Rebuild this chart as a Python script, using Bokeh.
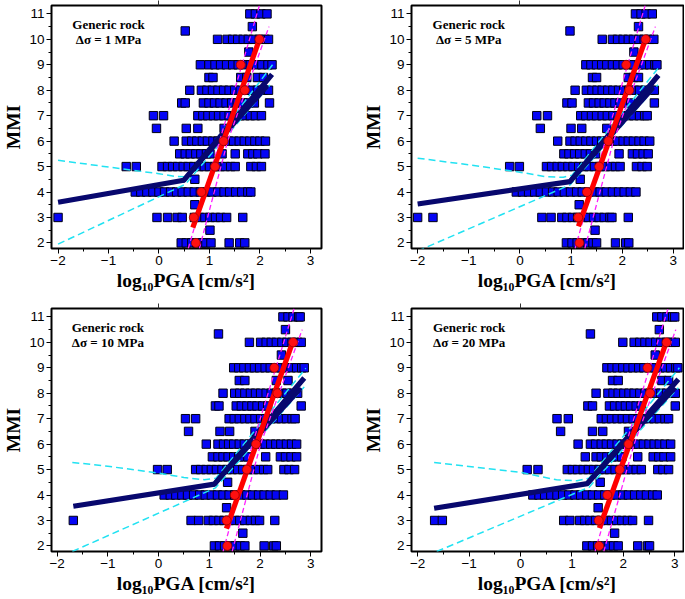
from bokeh.plotting import figure
from bokeh.models import LinearAxis, FixedTicker, Range1d
from bokeh.layouts import column, row
from bokeh.embed import file_html
from bokeh.resources import INLINE
from bokeh.core.properties import value

# ---------------- data ----------------
MMI_ROWS = [11, 10.5, 10.33, 10, 9.5, 9, 8.5, 8, 7.5, 7, 6.5, 6, 5.5, 5, 4.5, 4, 3.5, 3, 2.5, 2]

P1_PGA = [
    [1.80, 1.91, 2.02, 2.14],
    [1.85],
    [0.52],
    [1.16, 1.35, 1.46, 1.56, 1.67, 1.77, 1.87, 1.99, 2.10, 2.17],
    [1.78],
    [0.82, 0.99, 1.11, 1.22, 1.34, 1.46, 1.57, 1.69, 1.81, 1.93, 2.04, 2.16, 2.24],
    [0.99, 1.07, 1.62, 1.74, 1.95, 2.07],
    [0.61, 0.84, 0.95, 1.06, 1.17, 1.28, 1.39, 1.50, 1.61, 1.72, 1.83, 1.95, 2.06, 2.17],
    [0.45, 0.52, 0.88, 0.99, 1.10, 1.21, 1.33, 1.44, 1.55, 1.66, 1.77, 1.89, 2.19],
    [-0.11, 0.09, 0.77, 0.87, 0.97, 1.08, 1.18, 1.29, 1.39, 1.50, 1.60, 1.70, 1.81, 1.91, 2.03],
    [-0.05, 0.54, 0.77, 1.29],
    [0.30, 0.54, 0.65, 0.75, 0.86, 0.96, 1.07, 1.17, 1.27, 1.38, 1.48, 1.59, 1.69, 1.80, 1.90, 2.00, 2.11],
    [0.41, 0.52, 0.62, 0.73, 0.83, 0.94, 1.01, 1.25, 1.51, 1.76, 1.86, 1.96, 2.10],
    [-0.65, -0.45, 0.06, 0.17, 0.27, 0.37, 0.48, 0.58, 0.69, 0.79, 0.90, 1.00, 1.10, 1.21, 1.31, 1.42, 1.51, 1.82, 1.93, 2.03],
    [0.71],
    [-0.47, -0.36, -0.24, -0.12, 0.00, 0.11, 0.23, 0.35, 0.46, 0.58, 0.70, 0.82, 0.93, 1.05, 1.17, 1.29, 1.40, 1.52, 1.64, 1.76, 1.82],
    [0.71],
    [-2.0, -0.04, 0.17, 0.36, 0.46, 0.70, 0.80, 0.91, 1.01, 1.12, 1.22, 1.34, 1.66],
    [1.01],
    [0.44, 0.54, 0.65, 0.75, 0.86, 0.93, 1.03, 1.39, 1.60, 1.70],
]

P2_PGA = [
    [2.26, 2.37, 2.47, 2.59],
    [2.32],
    [0.98],
    [1.61, 1.81, 1.91, 2.02, 2.12, 2.22, 2.33, 2.43, 2.54, 2.62],
    [2.23],
    [1.29, 1.39, 1.50, 1.60, 1.70, 1.81, 1.91, 2.02, 2.12, 2.22, 2.33, 2.43, 2.54, 2.64, 2.68],
    [1.42, 1.50, 2.12, 2.22, 2.32],
    [1.08, 1.30, 1.41, 1.51, 1.61, 1.72, 1.82, 1.93, 2.03, 2.13, 2.24, 2.34, 2.45, 2.55, 2.63],
    [0.92, 1.02, 1.34, 1.44, 1.55, 1.65, 1.76, 1.86, 1.96, 2.07, 2.17, 2.63],
    [0.33, 0.54, 1.19, 1.29, 1.40, 1.50, 1.61, 1.71, 1.82, 1.92, 2.02, 2.13, 2.23, 2.34, 2.44, 2.49],
    [0.40, 1.00, 1.21, 1.70],
    [0.74, 0.98, 1.08, 1.18, 1.29, 1.39, 1.50, 1.60, 1.70, 1.81, 1.91, 2.02, 2.12, 2.22, 2.33, 2.43, 2.54],
    [0.86, 0.96, 1.07, 1.17, 1.28, 1.38, 1.48, 1.94, 2.20, 2.30, 2.41, 2.51],
    [-0.20, -0.01, 0.52, 0.62, 0.73, 0.83, 0.94, 1.04, 1.15, 1.25, 1.35, 1.46, 1.56, 1.67, 1.77, 1.87, 1.96, 2.28, 2.39, 2.49],
    [1.18],
    [-0.07, 0.05, 0.17, 0.29, 0.40, 0.52, 0.64, 0.75, 0.87, 0.99, 1.11, 1.22, 1.34, 1.46, 1.57, 1.69, 1.81, 1.93, 2.04, 2.16, 2.27],
    [1.16],
    [-2.0, -1.70, 0.43, 0.61, 0.82, 0.92, 1.03, 1.13, 1.24, 1.34, 1.44, 1.55, 1.65, 1.76, 1.80, 2.12],
    [1.47],
    [0.91, 1.02, 1.12, 1.22, 1.33, 1.43, 1.50, 1.87, 2.07, 2.13],
]

P3_PGA = [
    [2.45, 2.55, 2.65, 2.76, 2.79],
    [2.50],
    [1.18],
    [1.79, 2.01, 2.12, 2.22, 2.32, 2.43, 2.53, 2.63, 2.74, 2.81],
    [2.42],
    [1.48, 1.58, 1.68, 1.79, 1.89, 1.99, 2.10, 2.20, 2.30, 2.41, 2.51, 2.61, 2.72, 2.82, 2.87],
    [1.59, 1.70, 2.32, 2.55],
    [1.27, 1.50, 1.60, 1.70, 1.81, 1.91, 2.01, 2.12, 2.22, 2.32, 2.43, 2.53, 2.63, 2.74],
    [1.12, 1.19, 1.53, 1.63, 1.74, 1.84, 1.94, 2.05, 2.15, 2.81],
    [0.53, 0.73, 1.39, 1.49, 1.59, 1.70, 1.80, 1.90, 2.01, 2.11, 2.21, 2.32, 2.42, 2.52, 2.63, 2.69],
    [0.59, 1.21, 1.40, 1.90],
    [0.94, 1.17, 1.28, 1.38, 1.48, 1.59, 1.69, 1.79, 1.90, 2.00, 2.10, 2.21, 2.31, 2.41, 2.52, 2.62, 2.72],
    [1.06, 1.17, 1.27, 1.37, 1.48, 1.58, 1.68, 1.76, 2.11, 2.40, 2.50, 2.61, 2.72],
    [-0.02, 0.17, 0.73, 0.83, 0.94, 1.04, 1.14, 1.25, 1.35, 1.45, 1.56, 1.66, 1.76, 1.87, 1.97, 2.07, 2.15, 2.47, 2.57, 2.68],
    [1.36],
    [0.11, 0.23, 0.34, 0.46, 0.57, 0.69, 0.81, 0.92, 1.04, 1.16, 1.27, 1.39, 1.50, 1.62, 1.74, 1.85, 1.97, 2.08, 2.20, 2.32, 2.46],
    [1.34],
    [-1.68, 0.64, 0.79, 0.98, 1.08, 1.19, 1.29, 1.39, 1.50, 1.60, 1.70, 1.81, 1.91, 1.99, 2.29],
    [1.66],
    [1.10, 1.20, 1.30, 1.41, 1.51, 1.61, 1.70, 2.08, 2.27, 2.32],
]

P4_PGA = [
    [2.65, 2.75, 2.85, 2.96, 3.00],
    [2.70],
    [1.36],
    [1.99, 2.21, 2.32, 2.42, 2.52, 2.63, 2.73, 2.84, 2.94, 3.01],
    [2.62],
    [1.68, 1.78, 1.88, 1.99, 2.09, 2.19, 2.30, 2.40, 2.51, 2.61, 2.71, 2.82, 2.92, 3.02, 3.06],
    [1.79, 1.90, 2.75, 2.88],
    [1.47, 1.70, 1.80, 1.90, 2.01, 2.11, 2.21, 2.32, 2.42, 2.52, 2.63, 2.73, 2.84, 2.94, 3.01],
    [1.31, 1.40, 1.73, 1.83, 1.94, 2.04, 2.14, 2.25, 2.35, 3.01],
    [0.71, 0.93, 1.57, 1.67, 1.77, 1.88, 1.98, 2.08, 2.19, 2.29, 2.39, 2.50, 2.60, 2.70, 2.81, 2.88],
    [0.78, 1.40, 1.60, 2.10],
    [1.12, 1.36, 1.46, 1.57, 1.67, 1.77, 1.88, 1.98, 2.08, 2.19, 2.29, 2.39, 2.50, 2.60, 2.70, 2.81, 2.92],
    [1.26, 1.47, 1.57, 1.68, 1.78, 1.88, 1.97, 2.28, 2.58, 2.69, 2.79, 2.92],
    [0.13, 0.34, 0.91, 1.01, 1.11, 1.22, 1.32, 1.42, 1.53, 1.63, 1.73, 1.84, 1.94, 2.05, 2.15, 2.25, 2.35, 2.67, 2.77, 2.88],
    [1.55],
    [0.24, 0.36, 0.47, 0.59, 0.71, 0.82, 0.94, 1.06, 1.17, 1.29, 1.40, 1.52, 1.64, 1.75, 1.87, 1.99, 2.10, 2.22, 2.34, 2.45, 2.57, 2.66],
    [1.51],
    [-1.67, -1.52, 0.84, 0.96, 1.15, 1.25, 1.35, 1.46, 1.56, 1.66, 1.77, 1.87, 1.97, 2.08, 2.18, 2.49],
    [1.83],
    [1.29, 1.40, 1.50, 1.61, 1.71, 1.81, 1.90, 2.28, 2.47, 2.51],
]

# binned means (red circles)
RED_MMI = [2, 3, 4, 5, 6, 8, 9, 10]
P1_RED = [0.73, 0.69, 0.84, 1.11, 1.28, 1.70, 1.62, 1.99]
P2_RED = [1.165, 1.14, 1.31, 1.55, 1.73, 2.14, 2.08, 2.46]
P3_RED = [1.355, 1.34, 1.50, 1.74, 1.92, 2.34, 2.28, 2.65]
P4_RED = [1.53, 1.52, 1.69, 1.93, 2.10, 2.52, 2.47, 2.84]

# red fit line (x, y)
P1_FIT_X, P1_FIT_Y = [0.67, 1.99], [2.60, 10.0]
P2_FIT_X, P2_FIT_Y = [1.145, 2.46], [2.65, 10.02]
P3_FIT_X, P3_FIT_Y = [1.336, 2.645], [2.68, 10.03]
P4_FIT_X, P4_FIT_Y = [1.534, 2.84], [2.70, 10.03]

# magenta dashed bounds
MAG_L_Y = [1.78, 6.0, 11.33]
MAG_R_Y = [1.78, 6.0, 10.5]
P1_MAG_L, P1_MAG_R = [0.58, 1.20, 1.99], [0.80, 1.36, 2.18]
P2_MAG_L, P2_MAG_R = [1.08, 1.67, 2.45], [1.27, 1.83, 2.65]
P3_MAG_L, P3_MAG_R = [1.27, 1.85, 2.67], [1.45, 2.01, 2.83]
P4_MAG_L, P4_MAG_R = [1.45, 2.05, 2.87], [1.62, 2.21, 3.02]

# bilinear model (navy)
P1_NAVY_X, P1_NAVY_Y = [-2.0, 0.49, 2.24], [3.60, 4.46, 8.62]
P2_NAVY_X, P2_NAVY_Y = [-2.0, 0.98, 2.71], [3.53, 4.41, 8.59]
P3_NAVY_X, P3_NAVY_Y = [-1.68, 1.10, 2.87], [3.56, 4.43, 8.60]
P4_NAVY_X, P4_NAVY_Y = [-1.68, 1.30, 3.07], [3.48, 4.45, 8.55]
P1_NAVY2_X, P1_NAVY2_Y = [0.49, 2.13], [4.46, 8.12]
P2_NAVY2_X, P2_NAVY2_Y = [0.98, 2.59], [4.41, 8.05]
P3_NAVY2_X, P3_NAVY2_Y = [1.10, 2.78], [4.43, 8.14]
P4_NAVY2_X, P4_NAVY2_Y = [1.30, 2.98], [4.45, 8.15]

# cyan dashed bounds
P1_CUP_X, P1_CUP_Y = [-2.0, -1.0, 0.0, 0.3, 0.5, 0.6, 2.25], [5.25, 4.98, 4.72, 4.62, 4.60, 4.68, 9.0]
P2_CUP_X, P2_CUP_Y = [-2.0, -1.0, 0.0, 0.5, 0.85, 1.02, 2.73], [5.33, 5.07, 4.78, 4.60, 4.58, 4.66, 8.93]
P3_CUP_X, P3_CUP_Y = [-1.70, -1.0, 0.0, 0.5, 0.9, 1.13, 2.90], [5.28, 5.13, 4.86, 4.69, 4.60, 4.66, 8.98]
P4_CUP_X, P4_CUP_Y = [-1.68, -1.0, 0.0, 0.7, 1.1, 1.33, 3.09], [5.28, 5.12, 4.89, 4.60, 4.56, 4.66, 9.0]
P1_CLO_X, P1_CLO_Y = [-2.0, 0.52, 2.24], [1.95, 4.30, 8.30]
P2_CLO_X, P2_CLO_Y = [-2.0, 0.98, 2.70], [1.68, 4.28, 8.22]
P3_CLO_X, P3_CLO_Y = [-1.70, 1.12, 2.87], [1.78, 4.28, 8.25]
P4_CLO_X, P4_CLO_Y = [-1.63, 1.33, 3.07], [1.78, 4.30, 8.22]

NOTE_TITLE = "Generic rock"
NOTE_STRESS = ["Δσ = 1 MPa", "Δσ = 5 MPa", "Δσ = 10 MPa", "Δσ = 20 MPa"]
NOTE_X = -1.0
NOTE_Y = [10.58, 9.98]

X_TICKS = [-2, -1, 0, 1, 2, 3]
X_TICK_LABELS = ["−2", "−1", "0", "1", "2", "3"]
Y_TICKS = [2, 3, 4, 5, 6, 7, 8, 9, 10, 11]

X_LABEL = "log₁₀PGA [cm/s²]"
Y_LABEL = "MMI"

SANS = "Liberation Sans"
SERIF = "Liberation Serif"


def make_panel(pga_rows, red, fit, mag_l, mag_r, navy, navy2, cup, clo, note,
               xr, width, height, bl, br, bt, bb):
    p = figure(width=width, height=height, output_backend="svg", toolbar_location=None,
               x_range=Range1d(*xr), y_range=Range1d(1.78, 11.33),
               min_border_left=bl, min_border_right=br, min_border_top=bt,
               min_border_bottom=bb)
    p.grid.visible = False
    p.outline_line_color = "black"
    p.outline_line_width = 2
    p.background_fill_color = "white"
    p.border_fill_color = "white"

    xs, ys = [], []
    for lvl, vals in zip(MMI_ROWS, pga_rows):
        for v in vals:
            xs.append(v)
            ys.append(lvl)
    p.scatter(xs, ys, marker="square", size=8.4, fill_color="#0505f5",
              line_color="#000010", line_width=1.0)

    # cyan dashed bounds
    p.line(cup[0], cup[1], line_color="#22e2f2", line_width=1.5, line_dash="7 4")
    p.line(clo[0], clo[1], line_color="#22e2f2", line_width=1.5, line_dash="7 4")
    # navy bilinear lines
    p.line(navy2[0], navy2[1], line_color="#08086e", line_width=4.5, line_cap="round")
    p.line(navy[0], navy[1], line_color="#08086e", line_width=5.2, line_join="round")
    # magenta dashed
    p.line(mag_l, MAG_L_Y, line_color="#ff20ff", line_width=1.3, line_dash="5 3")
    p.line(mag_r, MAG_R_Y, line_color="#ff20ff", line_width=1.3, line_dash="5 3")
    # red fit line + binned means
    p.line(fit[0], fit[1], line_color="#ff0000", line_width=5.2)
    p.scatter(red, RED_MMI, marker="circle", size=9, fill_color="#ff1010",
              line_color="#990000", line_width=0.8)

    p.text(x=[NOTE_X, NOTE_X], y=NOTE_Y, text=[NOTE_TITLE, note],
           text_font=value(SERIF), text_font_style="bold", text_font_size="13px",
           text_align="center", text_baseline="middle", text_color="black")

    for ax in (p.xaxis[0], p.yaxis[0]):
        ax.axis_line_color = None
        ax.major_tick_in = 0
        ax.major_tick_out = 5
        ax.minor_tick_in = 0
        ax.minor_tick_out = 3
        ax.major_tick_line_color = "black"
        ax.minor_tick_line_color = "black"
        ax.major_label_text_font = SANS
        ax.major_label_text_font_size = "13.5px"
        ax.major_label_text_color = "black"
        ax.axis_label_text_font = SERIF
        ax.axis_label_text_font_style = "bold"
        ax.axis_label_text_font_size = "19.5px"
        ax.axis_label_text_color = "black"
        ax.axis_label_standoff = 2
        ax.major_label_standoff = 2

    minor_x = [-2.5 + 0.5 * i for i in range(13)]
    p.xaxis[0].ticker = FixedTicker(ticks=X_TICKS, minor_ticks=minor_x)
    p.xaxis[0].major_label_overrides = {t: s for t, s in zip(X_TICKS, X_TICK_LABELS)}
    p.xaxis[0].axis_label = X_LABEL
    minor_y = [1.5 + 0.5 * i for i in range(22)]
    p.yaxis[0].ticker = FixedTicker(ticks=Y_TICKS, minor_ticks=minor_y)
    p.yaxis[0].axis_label = Y_LABEL

    top = LinearAxis(ticker=FixedTicker(ticks=[0]), axis_line_color=None,
                     major_tick_in=0, major_tick_out=5, minor_tick_out=0, minor_tick_in=0,
                     major_tick_line_color="#333333", major_label_text_font_size="1px",
                     major_label_text_alpha=0, major_label_standoff=0)
    p.add_layout(top, "above")
    return p


p1 = make_panel(P1_PGA, P1_RED, (P1_FIT_X, P1_FIT_Y), P1_MAG_L, P1_MAG_R,
                (P1_NAVY_X, P1_NAVY_Y), (P1_NAVY2_X, P1_NAVY2_Y),
                (P1_CUP_X, P1_CUP_Y), (P1_CLO_X, P1_CLO_Y), NOTE_STRESS[0],
                (-2.13, 3.22), 341, 293, 46, 20, 5, 44)
p2 = make_panel(P2_PGA, P2_RED, (P2_FIT_X, P2_FIT_Y), P2_MAG_L, P2_MAG_R,
                (P2_NAVY_X, P2_NAVY_Y), (P2_NAVY2_X, P2_NAVY2_Y),
                (P2_CUP_X, P2_CUP_Y), (P2_CLO_X, P2_CLO_Y), NOTE_STRESS[1],
                (-2.12, 3.20), 343, 293, 70, 1, 5, 44)
p3 = make_panel(P3_PGA, P3_RED, (P3_FIT_X, P3_FIT_Y), P3_MAG_L, P3_MAG_R,
                (P3_NAVY_X, P3_NAVY_Y), (P3_NAVY2_X, P3_NAVY2_Y),
                (P3_CUP_X, P3_CUP_Y), (P3_CLO_X, P3_CLO_Y), NOTE_STRESS[2],
                (-2.11, 3.21), 341, 303, 46, 20, 15, 44)
p4 = make_panel(P4_PGA, P4_RED, (P4_FIT_X, P4_FIT_Y), P4_MAG_L, P4_MAG_R,
                (P4_NAVY_X, P4_NAVY_Y), (P4_NAVY2_X, P4_NAVY2_Y),
                (P4_CUP_X, P4_CUP_Y), (P4_CLO_X, P4_CLO_Y), NOTE_STRESS[3],
                (-2.12, 3.17), 343, 303, 70, 1, 15, 44)

layout = column(row(p1, p2), row(p3, p4))
open("out.html", "w").write(file_html(layout, INLINE))
